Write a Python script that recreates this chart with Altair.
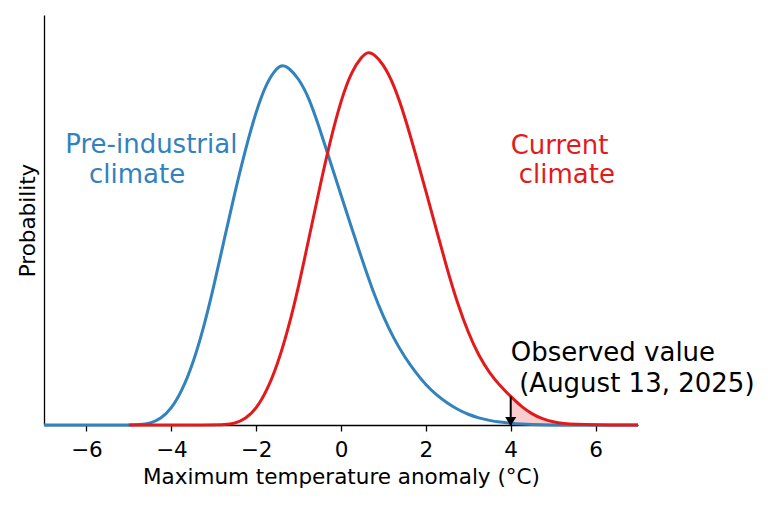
import altair as alt
import pandas as pd

# Pre-industrial climate: probability density of maximum temperature anomaly
blue_x = [-7.0, -5.5, -5.0, -4.75, -4.5, -4.25, -4.0, -3.75, -3.5, -3.25, -3.0,
          -2.75, -2.5, -2.25, -2.0, -1.75, -1.5, -1.375, -1.25, -1.0, -0.75,
          -0.5, -0.25, 0.0, 0.25, 0.5, 0.75, 1.0, 1.25, 1.5, 1.75, 2.0, 2.25,
          2.5, 2.75, 3.0, 3.25, 3.5, 3.75, 4.0, 4.25, 4.5, 4.75, 5.0, 5.5, 7.0]
blue_y = [0.0, 0.0, 0.1, 0.3, 1.5, 6, 16, 34, 60, 95, 138,
          186, 233, 276, 314, 343, 358, 360, 358, 347, 327,
          296, 263, 230, 197, 165, 134, 108, 86, 68, 53, 40, 30,
          22, 15.5, 10.5, 7, 4.5, 2.8, 1.7, 1.0, 0.5, 0.25, 0.1, 0.0, 0.0]

# Current climate
red_x = [-5.0, -3.0, -2.75, -2.5, -2.25, -2.0, -1.75, -1.5, -1.25, -1.0,
         -0.75, -0.5, -0.25, 0.0, 0.25, 0.5, 0.625, 0.75, 1.0, 1.25, 1.5, 1.75,
         2.0, 2.25, 2.5, 2.75, 3.0, 3.25, 3.5, 3.75, 4.0, 4.25, 4.5, 4.75, 5.0,
         5.25, 5.5, 6.0, 6.5, 7.0]
red_y = [0.0, 0.0, 0.3, 1.5, 6, 16, 34, 60, 95, 138,
         188, 238, 285, 325, 354, 369, 373, 372, 361, 340, 309, 272,
         234, 195, 156, 121, 92, 69, 52, 39, 28.5, 18.5, 11, 6, 3,
         1.5, 0.7, 0.1, 0.0, 0.0]

x_ticks = [-6, -4, -2, 0, 2, 4, 6]
observed_x = 4.0

BLUE = "#3182bd"
RED = "#e31a1c"
FONT = "DejaVu Sans"

pre = pd.DataFrame({"x": blue_x, "p": [v / 1000 for v in blue_y]})
cur = pd.DataFrame({"x": red_x, "p": [v / 1000 for v in red_y]})
observed_p = cur.loc[cur["x"] == observed_x, "p"].iloc[0]

x_scale = alt.Scale(domain=[-7, 7], nice=False, zero=False)
y_scale = alt.Scale(domain=[0, 0.41], nice=False)

x_enc = alt.X(
    "x:Q", scale=x_scale,
    axis=alt.Axis(values=x_ticks, title="Maximum temperature anomaly (°C)",
                  grid=False, tickSize=6, labelPadding=8,
                  titleBaseline="alphabetic", titleY=58),
)
y_enc = alt.Y(
    "p:Q", scale=y_scale,
    axis=alt.Axis(title="Probability", ticks=False, labels=False, grid=False,
                  titlePadding=5),
)

# shaded exceedance region under the current-climate curve
tail = alt.Chart(cur).transform_filter(alt.datum.x >= observed_x).mark_area(
    color=RED, opacity=0.22, interpolate="basis"
).encode(x=x_enc, y=y_enc)

pre_line = alt.Chart(pre).mark_line(
    color=BLUE, strokeWidth=3, interpolate="basis"
).encode(x=x_enc, y=y_enc)

cur_line = alt.Chart(cur).mark_line(
    color=RED, strokeWidth=3, interpolate="basis"
).encode(x=x_enc, y=y_enc)

# arrow marking the observed value
arrow_df = pd.DataFrame({"x": [observed_x], "p": [0.0], "p2": [observed_p]})
arrow_shaft = alt.Chart(arrow_df).mark_rule(color="black", strokeWidth=2).encode(
    x=x_enc, y=y_enc, y2="p2:Q"
)
arrow_head = alt.Chart(arrow_df).mark_point(
    shape="M-0.7,-1L0.7,-1L0,0.1Z", filled=True, color="black",
    opacity=1, size=256, strokeWidth=0
).encode(x=x_enc, y=y_enc)

# annotation text (x, p in data units)
labels = pd.DataFrame({
    "x": [-6.5, -5.94, 4.0, 4.19, 4.0, 4.2],
    "p": [0.272, 0.242, 0.271, 0.242, 0.064, 0.033],
    "text": ["Pre-industrial", "climate", "Current", "climate",
             "Observed value", "(August 13, 2025)"],
    "color": [BLUE, BLUE, RED, RED, "black", "black"],
})
text = alt.Chart(labels).mark_text(
    align="left", baseline="alphabetic", font=FONT, fontSize=26
).encode(x=x_enc, y=y_enc, text="text:N", color=alt.Color("color:N", scale=None))

chart = alt.layer(tail, pre_line, cur_line, arrow_shaft, arrow_head, text).properties(
    width=594, height=410,
    autosize=alt.AutoSizeParams(type="none"),
    padding={"left": 44, "top": 15, "right": 130, "bottom": 82},
    background="white",
).configure_view(stroke=None).configure_axis(
    domainColor="black", domainWidth=1.3, tickColor="black", tickWidth=1.3,
    labelFont=FONT, labelFontSize=21.5, labelColor="black",
    titleFont=FONT, titleFontSize=21.5, titleColor="black", titleFontWeight="normal",
)

chart.save("out.html", embed_options={"renderer": "svg", "actions": False})
